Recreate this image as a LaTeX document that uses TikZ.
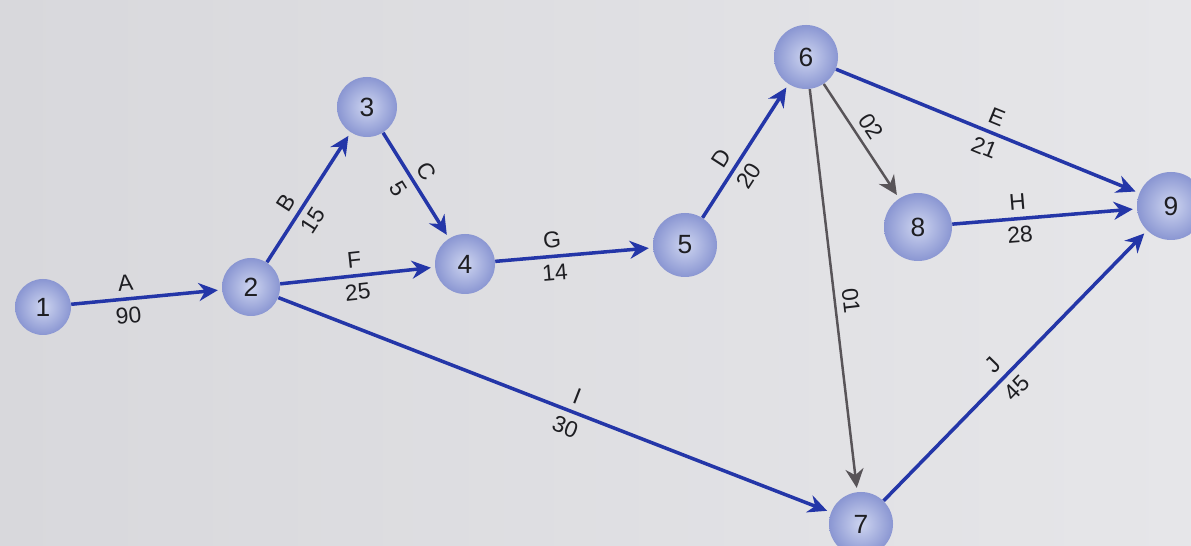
\documentclass[tikz,border=0pt]{standalone}
\usepackage{fontspec}
\setmainfont{Liberation Sans}
\usetikzlibrary{arrows.meta}
\definecolor{ArcBlue}{RGB}{36,54,168}
\definecolor{DummyGray}{RGB}{88,84,88}
\definecolor{EvInner}{RGB}{206,213,240}
\definecolor{EvOuter}{RGB}{138,150,210}
\definecolor{PaperL}{RGB}{216,216,220}
\definecolor{PaperR}{RGB}{230,230,233}
\definecolor{InkGray}{RGB}{30,30,34}

\begin{document}
\begin{tikzpicture}[
		event/.style={circle, inner sep=0pt, inner color=EvInner, outer color=EvOuter, text=InkGray, font=\fontsize{15}{17}\selectfont},
		actarrow/.style={ArcBlue, line width=2pt, shorten >=0.8mm, -{Stealth[length=3.8mm, width=3.6mm]}},
		dummy/.style={actarrow, DummyGray, line width=1.4pt},
		lbl/.style={sloped, text=InkGray, inner sep=3.8pt, font=\fontsize{13}{15}\selectfont}
		]
		
		% ===== khung nen =====
		\useasboundingbox (0,0) rectangle (23.82,10.92);
		\shade[left color=PaperL, right color=PaperR] (0,0) rectangle (23.82,10.92);
		
		% ===== cac su kien =====
		\foreach \n/\x/\y/\d in {1/0.86/4.78/1.12, 2/5.02/5.18/1.16, 3/7.34/8.78/1.20, 4/9.30/5.64/1.20, 5/13.70/6.02/1.28, 6/16.12/9.78/1.28, 7/17.22/0.44/1.28, 8/18.36/6.38/1.36, 9/23.42/6.80/1.36}{
			\node[event, minimum size=\d cm] (N\n) at (\x,\y) {\n};
		}
		
		% ===== cac cong viec: ten o tren, thoi gian o duoi =====
		\foreach \s/\t/\a/\w/\p in {1/2/A/90/0.37, 2/3/B/15/0.39, 3/4/C/5/0.45, 2/4/F/25/0.49, 4/5/G/14/0.37, 2/7/I/30/0.53, 5/6/D/20/0.38, 6/9/E/21/0.51, 8/9/H/28/0.36, 7/9/J/45/0.46}{
			\draw[actarrow] (N\s) -- node[lbl, above, pos=\p] {\a} node[lbl, below, pos=\p] {\w} (N\t);
		}
		
		% ===== cong viec gia =====
		\draw[dummy] (N6) -- node[lbl, above, pos=0.45] {02} (N8);
		\draw[dummy] (N6) -- node[lbl, above, pos=0.53] {01} (N7);
		
	\end{tikzpicture}
\end{document}
